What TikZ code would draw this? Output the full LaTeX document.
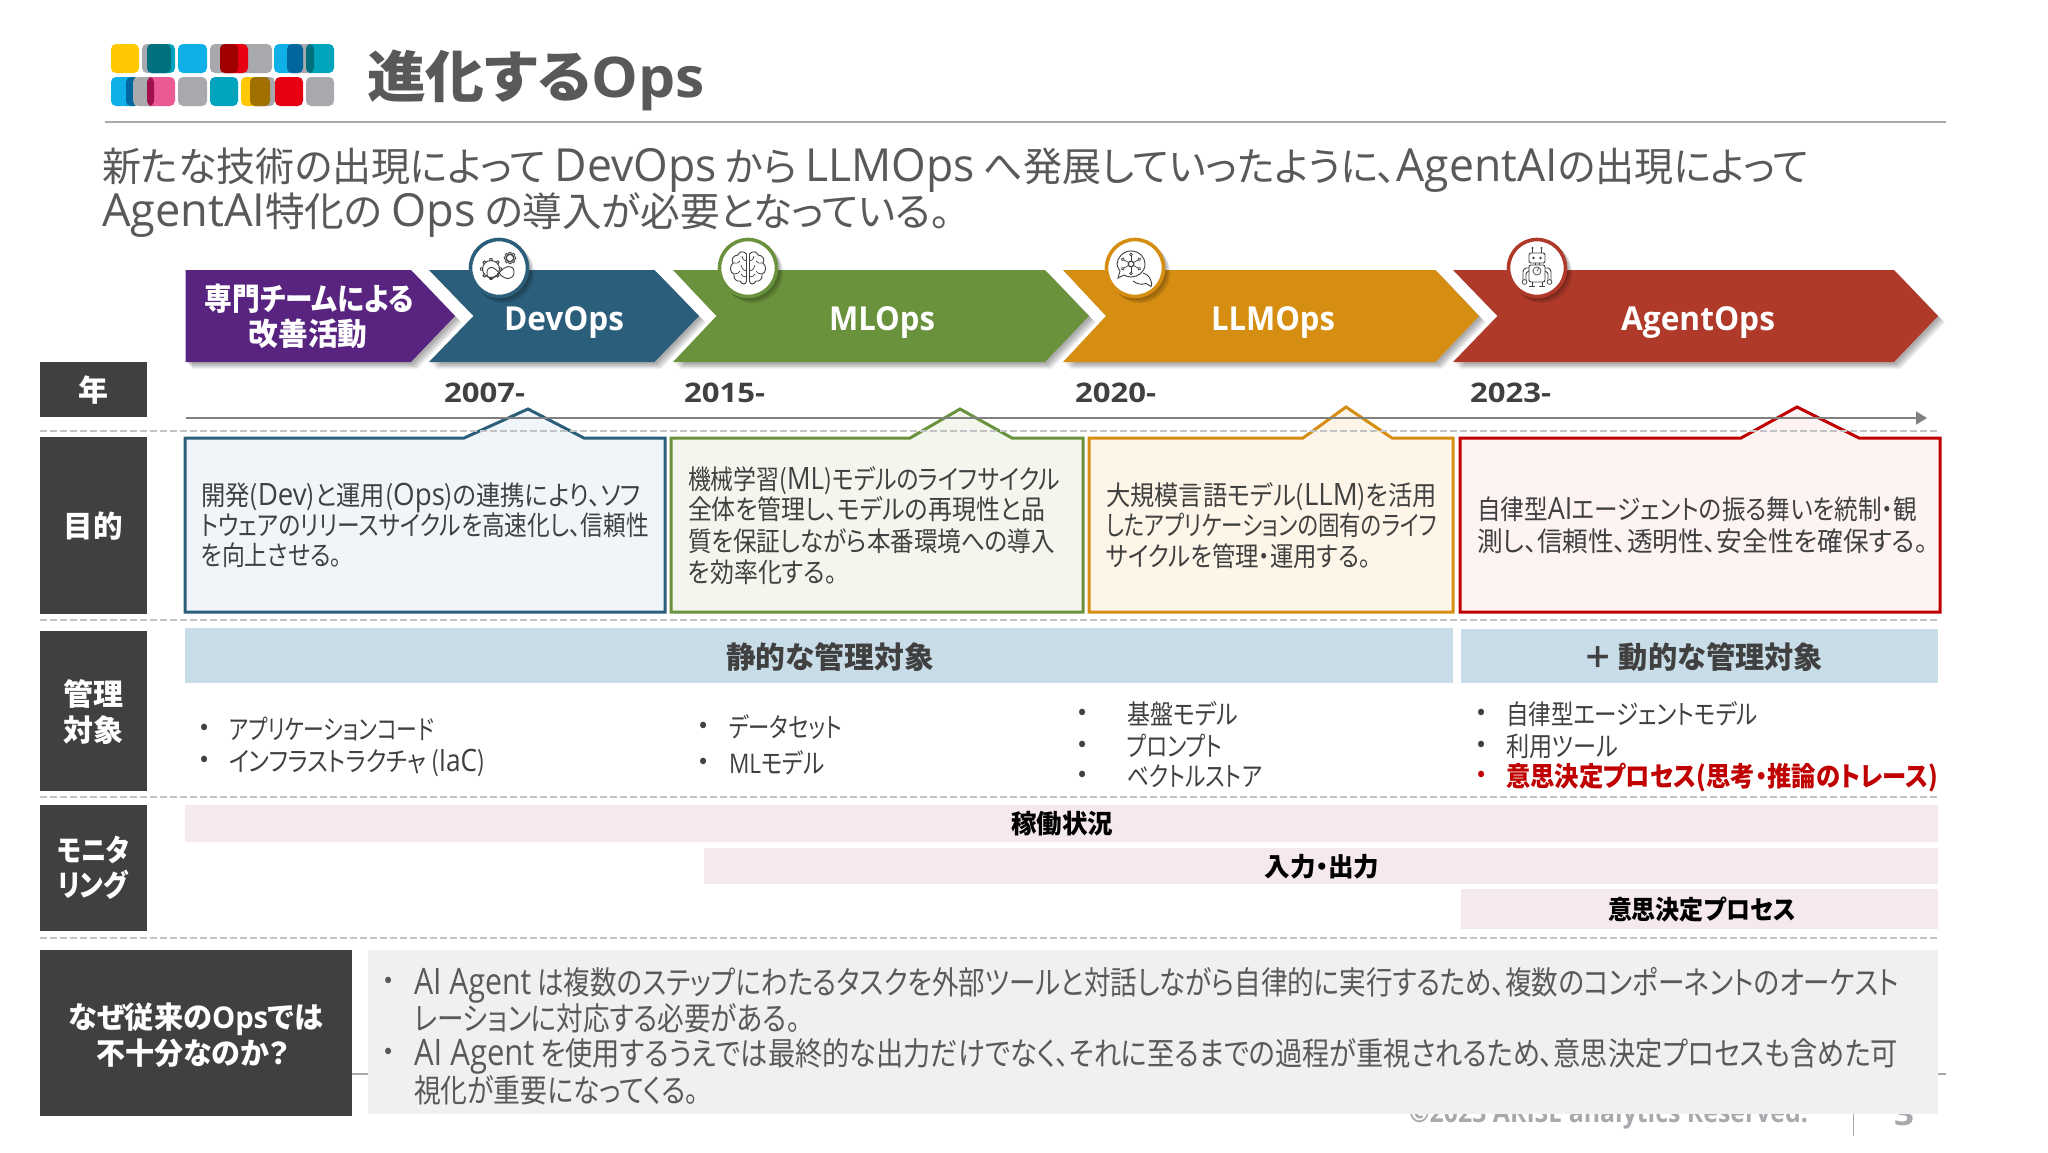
\documentclass[tikz,border=0pt]{standalone}
\usepackage{fontspec}
\usepackage{graphicx}
\setmainfont[RawFeature=+palt]{Noto Sans CJK JP}
\newfontfamily\latf{Open Sans}
\newfontfamily\latb[Scale=1.14]{Open Sans}
\newcommand\La[1]{{\latf #1}}
\newcommand\Lb[1]{{\latb #1}}
\usetikzlibrary{arrows.meta}
\definecolor{cpurple}{HTML}{582480}
\definecolor{cteal}{HTML}{2B5E7A}
\definecolor{cgreen}{HTML}{6A923C}
\definecolor{corange}{HTML}{D68E12}
\definecolor{cred}{HTML}{B03A2A}
\definecolor{cdark}{HTML}{404040}
\definecolor{cgray}{HTML}{595959}
\definecolor{crim}{HTML}{C00000}
\definecolor{lblue}{HTML}{EFF5F9}
\definecolor{lgreen}{HTML}{F2F6EC}
\definecolor{lorange}{HTML}{FDF5E8}
\definecolor{lred}{HTML}{FEF3F3}
\definecolor{band}{HTML}{C9DDE8}
\definecolor{bar}{HTML}{F5E9EB}
\definecolor{note}{HTML}{F0F0F0}
\definecolor{lg}{HTML}{A7A9AC}
\definecolor{lyellow}{HTML}{FFC800}
\definecolor{lcyan}{HTML}{0FB0E8}
\definecolor{lteal}{HTML}{00A4BD}
\definecolor{ldteal}{HTML}{00707F}
\definecolor{ldblue}{HTML}{00669E}
\definecolor{lredd}{HTML}{E60012}
\definecolor{lmaroon}{HTML}{A00000}
\definecolor{lpink}{HTML}{EC5A96}
\definecolor{ldpink}{HTML}{A0104E}
\definecolor{lbrown}{HTML}{A07000}
\newcommand\tl[6]{\node[inner sep=0pt,outer sep=0pt,text height=.88*#5pt,text depth=.12*#5pt,font=\fontsize{#5}{#5}\selectfont,#1] (#2) at (#3) {\resizebox{#4pt}{\height}{#6}};}
\newcommand\bul[3]{\node[inner sep=0pt,font=\fontsize{24}{24}\selectfont,#1] (#2) at (#3) {•};}
\newcommand\shad[1]{\foreach \sv in {2,3.5,5,6.5}{\fill[black,opacity=.09,shift={(\sv,\sv)}] #1;}}
\newcommand\gearic[2]{\draw[icon] (#1) circle (#2pt);\foreach \ga in {0,45,...,315}{\draw[icon,shift={(#1)},rotate=\ga] (#2-.6,-1.3)--(#2+2,-1)--(#2+2,1)--(#2-.6,1.3);}}
\tikzset{
 whitebold/.style={text=white},
 dbox/.style={fill=cdark,draw=none},
 dline/.style={draw=lg!70,dashed,dash pattern=on 7pt off 3pt,line width=1.2pt},
 callout/.style={line width=3pt,line join=miter},
 icon/.style={draw=cdark,line width=.9pt,fill=none},
 iconsm/.style={draw=cdark,line width=.7pt,fill=none},
 ringc/.style={line width=3.6pt,fill=white},
 logob/.style={rounded corners=5pt},
}
\begin{document}
\begin{tikzpicture}[x=1pt,y=-1pt]
\useasboundingbox (0,0) rectangle (2048,1152);
\fill[white] (0,0) rectangle (2048,1152);
% logo
\foreach \c/\a/\b in {lyellow/111/139,lg/142/171,lteal/147/175,ldteal/147/171,lcyan/178/207,lg/210/272,lredd/220/248,lmaroon/220/238,lcyan/274/303,lg/287/314,ldblue/287/303,lteal/306/334,ldteal/306/314}
 {\fill[\c,logob] (\a,44) rectangle (\b,73);}
\foreach \c/\a/\b in {lcyan/111/139,ldblue/126/139,lg/133/154,lpink/147/175,ldpink/147/154,lg/178/207,lteal/210/238,lyellow/241/270,lg/250/275,lbrown/250/270,lredd/275/303,lg/306/334}
 {\fill[\c,logob] (\a,77) rectangle (\b,106);}
\tl{anchor=west,text=cgray}{title}{367,76}{338}{56}{\bfseries 進化する\La{Ops}}
\draw[lg,line width=2pt] (105,122) -- (1946,122);
\tl{anchor=west,text=cgray}{sub1}{102,166}{1707}{40}{新たな技術の出現によって \Lb{DevOps} から \Lb{LLMOps} へ発展していったように、\Lb{AgentAI}の出現によって}
\tl{anchor=west,text=cgray}{sub2}{102,211}{849}{40}{\Lb{AgentAI}特化の \Lb{Ops} の導入が必要となっている。}
% footer hidden behind the note box
\draw[lg,line width=1.6pt] (105,1074) -- (1946,1074);
\tl{anchor=west,text=lg}{copy}{1409,1112}{399}{28}{\bfseries\La{©2023 ARISE analytics Reserved.}}
\draw[lg,line width=1.4pt] (1853.5,1100) -- (1853.5,1136);
\tl{anchor=center,text=lg}{pageno}{1904,1113}{20}{32}{\bfseries\La{3}}
% chevrons
\shad{(185.5,270)--(411,270)--(455,316)--(411,362)--(185.5,362)--cycle}
\fill[cpurple] (185.5,270)--(411,270)--(455,316)--(411,362)--(185.5,362)--cycle;
\shad{(429,270)--(654.5,270)--(699,316)--(654.5,362)--(429,362)--(473.5,316)--cycle}
\fill[cteal] (429,270)--(654.5,270)--(699,316)--(654.5,362)--(429,362)--(473.5,316)--cycle;
\shad{(673,270)--(1045,270)--(1089,316)--(1045,362)--(673,362)--(716.5,316)--cycle}
\fill[cgreen] (673,270)--(1045,270)--(1089,316)--(1045,362)--(673,362)--(716.5,316)--cycle;
\shad{(1063,270)--(1435.5,270)--(1479,316)--(1435.5,362)--(1063,362)--(1106,316)--cycle}
\fill[corange] (1063,270)--(1435.5,270)--(1479,316)--(1435.5,362)--(1063,362)--(1106,316)--cycle;
\shad{(1453,270)--(1894,270)--(1938,316)--(1894,362)--(1453,362)--(1497.5,316)--cycle}
\fill[cred] (1453,270)--(1894,270)--(1938,316)--(1894,362)--(1453,362)--(1497.5,316)--cycle;
\tl{anchor=center,whitebold}{a1}{309,299}{209}{31}{\bfseries 専門チームによる}
\tl{anchor=center,whitebold}{a1b}{308,334}{119}{31}{\bfseries 改善活動}
\tl{anchor=center,whitebold}{a2}{564,318}{120}{33}{\bfseries\La{DevOps}}
\tl{anchor=center,whitebold}{a3}{882,318}{106}{33}{\bfseries\La{MLOps}}
\tl{anchor=center,whitebold}{a4}{1273,318}{124}{33}{\bfseries\La{LLMOps}}
\tl{anchor=center,whitebold}{a5}{1698,318}{154}{33}{\bfseries\La{AgentOps}}
% icon circles
\foreach \cx/\cc in {499/cteal,748/cgreen,1135/corange,1537/cred}{
 \foreach \sv in {2,3.5,5}{\fill[black,opacity=.1] (\cx+\sv,268+\sv) circle (30pt);}
 \draw[ringc,draw=\cc] (\cx,268) circle (28.5pt);
}
% devops icon
\gearic{491,269}{8.5}
\gearic{510,258}{3.6}
\draw[icon] (499,273) .. controls (493,265) and (487,266) .. (487,273) .. controls (487,280) and (493,281) .. (499,273) .. controls (505,265) and (514,264) .. (514,272) .. controls (514,280) and (505,281) .. (499,273);
% brain icon
\foreach \s in {1,-1}{
\begin{scope}[shift={(748,268)},xscale=\s]
 \draw[icon] (1.5,-14) .. controls (5,-18) and (9,-16) .. (10,-13) .. controls (15,-13) and (17,-8) .. (15,-5) .. controls (19,-2) and (18,5) .. (14,6) .. controls (15,11) and (11,14) .. (8,13) .. controls (6,17) and (2,17) .. (1.5,13) -- cycle;
 \draw[iconsm] (1.5,-7) .. controls (5,-8) and (6,-10) .. (6,-12) (15,-5) .. controls (12,-4) and (9,-5) .. (8,-7) (1.5,3) .. controls (5,2) and (7,0) .. (7,-3) (14,6) .. controls (11,6) and (9,5) .. (8,3) (1.5,9) .. controls (4,9) and (6,8) .. (7,6);
\end{scope}}
% chat icon
\begin{scope}[shift={(1135,268)}]
 \draw[icon] (8,5) .. controls (12,6) and (15,9) .. (16,13) .. controls (17,15) and (17,17) .. (16,18.5) -- (11,15.5) .. controls (6,17) and (2,16) .. (-2,13);
 \draw[icon,fill=white] (-4,-17) .. controls (5,-17) and (10,-10) .. (10,-4) .. controls (10,4) and (3,9) .. (-4,9) .. controls (-7,9) and (-9,8) .. (-11,7) -- (-17,10) -- (-15,3) .. controls (-17,0) and (-18,-2) .. (-18,-4) .. controls (-18,-10) and (-12,-17) .. (-4,-17) -- cycle;
 \foreach \ga in {0,60,...,300}{
  \draw[iconsm,shift={(-4,-4)},rotate=\ga+30] (3,0) -- (8,0);
  \draw[iconsm,shift={(-4,-4)},rotate=\ga+30] (9.5,0) circle (1.4pt);}
 \draw[icon,line width=1.2pt] (-4,-4) circle (2.8pt);
\end{scope}
% robot icon
\begin{scope}[shift={(1537,268)}]
 \draw[icon,rounded corners=2pt] (-8,-15) rectangle (8,-5);
 \fill[cdark] (-3.5,-10) circle (1.4pt) (3.5,-10) circle (1.4pt);
 \draw[iconsm] (-4.5,-15)--(-4.5,-19) (4.5,-15)--(4.5,-19) (-2,-5)--(-2,-3) (2,-5)--(2,-3);
 \fill[cdark] (-4.5,-20) circle (1.2pt) (4.5,-20) circle (1.2pt);
 \draw[icon,rounded corners=2pt] (-8,-3) rectangle (8,14);
 \draw[iconsm] (0,3) circle (4pt) (0,3)--(1.5,0.5);
 \draw[icon,rounded corners=1pt] (-8,0)--(-12,0)--(-14,3)--(-14,12) (-11,12)--(-11,5)--(-8,3);
 \draw[icon,rounded corners=1pt] (8,0)--(12,0)--(14,3)--(14,12) (11,12)--(11,5)--(8,3);
 \draw[iconsm] (-12.5,14) circle (2.4pt) (12.5,14) circle (2.4pt);
 \draw[iconsm] (-5,14)--(-5,18) (-8,18)--(-2,18) (5,14)--(5,18) (2,18)--(8,18);
\end{scope}
% row header boxes
\fill[dbox] (40,362) rectangle (147,417);
\fill[dbox] (40,437) rectangle (147,614);
\fill[dbox] (40,631) rectangle (147,791);
\fill[dbox] (40,805) rectangle (147,931);
\fill[dbox] (40,950) rectangle (351.5,1116);
\tl{anchor=center,whitebold}{h1}{93,390}{30}{30}{\bfseries 年}
\tl{anchor=center,whitebold}{h2}{93,526}{59}{30}{\bfseries 目的}
\tl{anchor=center,whitebold}{h3}{93,694}{60}{30}{\bfseries 管理}
\tl{anchor=center,whitebold}{h3b}{93,730}{60}{30}{\bfseries 対象}
\tl{anchor=center,whitebold}{h4}{93,850}{72}{30}{\bfseries モニタ}
\tl{anchor=center,whitebold}{h4b}{93,885}{70}{30}{\bfseries リング}
\tl{anchor=center,whitebold}{h5}{196,1017}{255}{30}{\bfseries なぜ従来の\La{Ops}では}
\tl{anchor=center,whitebold}{h5b}{193,1053}{193}{30}{\bfseries 不十分なのか？}
% years
\tl{anchor=west,text=cdark}{y1}{444,392}{81}{27}{\bfseries\La{2007-}}
\tl{anchor=west,text=cdark}{y2}{684,392}{81}{27}{\bfseries\La{2015-}}
\tl{anchor=west,text=cdark}{y3}{1075,392}{81}{27}{\bfseries\La{2020-}}
\tl{anchor=west,text=cdark}{y4}{1470,392}{81}{27}{\bfseries\La{2023-}}
% callouts
\draw[callout,draw=cteal,fill=lblue] (185,438)--(464,438)--(528,409)--(584,438)--(665,438)--(665,612)--(185,612)--cycle;
\draw[callout,draw=cgreen,fill=lgreen] (671,438)--(910,438)--(960,409)--(1012,438)--(1083,438)--(1083,612)--(671,612)--cycle;
\draw[callout,draw=corange,fill=lorange] (1089,438)--(1303,438)--(1346,407)--(1392,438)--(1453,438)--(1453,612)--(1089,612)--cycle;
\draw[callout,draw=crim,fill=lred] (1460,438)--(1741,438)--(1797,407)--(1859,438)--(1940,438)--(1940,612)--(1460,612)--cycle;
% timeline
\coordinate (tl0) at (186,418);
\coordinate (tl1) at (1927,418);
\draw[draw=gray,line width=1.8pt,-{Triangle[length=11pt,width=13pt]}] (tl0) -- (tl1);
% dashed separators
\draw[dline] (40,431) -- (1938,431);
\draw[dline] (40,620) -- (1938,620);
\draw[dline] (40,797) -- (1938,797);
\draw[dline] (40,938) -- (1938,938);
% purpose texts
\tl{anchor=west,text=cdark}{p1}{201,495}{440}{27}{開発(\Lb{Dev})と運用(\Lb{Ops})の連携により、ソフ}
\tl{anchor=west,text=cdark}{p2}{201,525}{448}{27}{トウェアのリリースサイクルを高速化し、信頼性}
\tl{anchor=west,text=cdark}{p3}{201,555}{141}{27}{を向上させる。}
\tl{anchor=west,text=cdark}{q1}{688,479}{372}{27}{機械学習(\Lb{ML})モデルのライフサイクル}
\tl{anchor=west,text=cdark}{q2}{688,509}{357}{27}{全体を管理し、モデルの再現性と品}
\tl{anchor=west,text=cdark}{q3}{688,541}{367}{27}{質を保証しながら本番環境への導入}
\tl{anchor=west,text=cdark}{q4}{688,572}{149}{27}{を効率化する。}
\tl{anchor=west,text=cdark}{r1}{1106,495}{331}{27}{大規模言語モデル(\Lb{LLM})を活用}
\tl{anchor=west,text=cdark}{r2}{1106,525}{331}{27}{したアプリケーションの固有のライフ}
\tl{anchor=west,text=cdark}{r3}{1106,556}{265}{27}{サイクルを管理・運用する。}
\tl{anchor=west,text=cdark}{s1}{1477,509}{440}{27}{自律型\Lb{AI}エージェントの振る舞いを統制・観}
\tl{anchor=west,text=cdark}{s2}{1477,541}{451}{27}{測し、信頼性、透明性、安全性を確保する。}
% section bands
\fill[band] (185,628) rectangle (1453,683);
\fill[band] (1461,629) rectangle (1938,683);
\tl{anchor=center,text=cdark}{b1}{830,657}{208}{30}{\bfseries 静的な管理対象}
\tl{anchor=center,text=cdark}{b2}{1703,657}{240}{30}{\bfseries ＋ 動的な管理対象}
% lists
\bul{text=cdark}{m1}{205,729}
\tl{anchor=west,text=cdark}{m1t}{229,729}{205}{27}{アプリケーションコード}
\bul{text=cdark}{m2}{205,761}
\tl{anchor=west,text=cdark}{m2t}{229,761}{256}{27}{インフラストラクチャ (\Lb{IaC})}
\bul{text=cdark}{n1}{704,727}
\tl{anchor=west,text=cdark}{n1t}{729,727}{113}{27}{データセット}
\bul{text=cdark}{n2}{704,763}
\tl{anchor=west,text=cdark}{n2t}{729,763}{96}{27}{\La{ML}モデル}
\bul{text=cdark}{o1}{1083,714}
\tl{anchor=west,text=cdark}{o1t}{1127,714}{111}{27}{基盤モデル}
\bul{text=cdark}{o2}{1083,746}
\tl{anchor=west,text=cdark}{o2t}{1127,746}{95}{27}{プロンプト}
\bul{text=cdark}{o3}{1083,776}
\tl{anchor=west,text=cdark}{o3t}{1127,776}{135}{27}{ベクトルストア}
\bul{text=cdark}{t1}{1482,714}
\tl{anchor=west,text=cdark}{t1t}{1506,714}{252}{27}{自律型エージェントモデル}
\bul{text=cdark}{t2}{1482,746}
\tl{anchor=west,text=cdark}{t2t}{1506,746}{112}{27}{利用ツール}
\bul{text=crim}{t3}{1482,776}
\tl{anchor=west,text=crim}{t3t}{1506,776}{432}{27}{\bfseries 意思決定プロセス(思考・推論のトレース)}
% monitoring bars
\fill[bar] (185,805) rectangle (1938,842);
\fill[bar] (704,848) rectangle (1938,884);
\fill[bar] (1461,889) rectangle (1938,929);
\tl{anchor=center,text=black}{w1}{1062,824}{102}{26}{\bfseries 稼働状況}
\tl{anchor=center,text=black}{w2}{1322,867}{115}{26}{\bfseries 入力・出力}
\tl{anchor=center,text=black}{w3}{1702,910}{188}{26}{\bfseries 意思決定プロセス}
% note box
\fill[note] (368,950) rectangle (1938,1114);
\bul{text=cgray}{u1}{389,982}
\tl{anchor=west,text=cgray}{u1a}{414,982}{1485}{32}{\Lb{AI Agent} は複数のステップにわたるタスクを外部ツールと対話しながら自律的に実行するため、複数のコンポーネントのオーケスト}
\tl{anchor=west,text=cgray}{u1b}{414,1018}{386}{32}{レーションに対応する必要がある。}
\bul{text=cgray}{u2}{389,1053}
\tl{anchor=west,text=cgray}{u2a}{414,1053}{1484}{32}{\Lb{AI Agent} を使用するうえでは最終的な出力だけでなく、それに至るまでの過程が重視されるため、意思決定プロセスも含めた可}
\tl{anchor=west,text=cgray}{u2b}{414,1090}{285}{32}{視化が重要になってくる。}
\end{tikzpicture}
\end{document}
